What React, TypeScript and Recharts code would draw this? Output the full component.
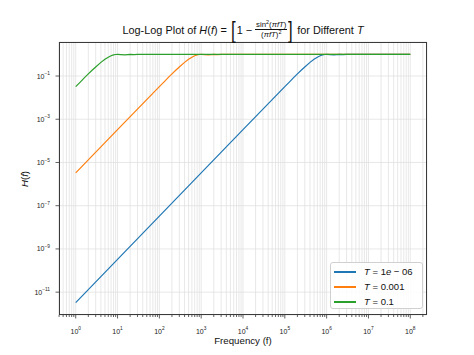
import React from "react";
import { CartesianGrid, Line, LineChart, XAxis, YAxis } from "recharts";

// frequency (Hz) and H(f) for each T
const freqT6 = [1, 10, 100, 1e3, 1e4, 1e5, 1.3e5, 1.6e5, 2e5, 2.5e5, 3e5, 4e5, 5e5, 6e5, 7e5, 8e5, 9e5, 1e6, 1.2e6, 1.5e6, 2e6, 2.5e6, 3e6, 1e7, 1e8];
const hT6 = [3.3e-12, 3.3e-10, 3.3e-8, 3.3e-6, 3.3e-4, 0.0325, 0.054, 0.082, 0.125, 0.189, 0.263, 0.427, 0.595, 0.745, 0.865, 0.945, 0.988, 1, 0.976, 0.955, 1, 0.984, 1, 1, 1];

const freqT3 = [1, 10, 100, 130, 160, 200, 250, 300, 400, 500, 600, 700, 800, 900, 1e3, 1.2e3, 1.5e3, 2e3, 2.5e3, 3e3, 1e4, 1e5, 1e6, 1e7, 1e8];
const hT3 = [3.3e-6, 3.3e-4, 0.0325, 0.054, 0.082, 0.125, 0.189, 0.263, 0.427, 0.595, 0.745, 0.865, 0.945, 0.988, 1, 0.976, 0.955, 1, 0.984, 1, 1, 1, 1, 1, 1];

const freqT1 = [1, 1.3, 1.6, 2, 2.5, 3, 4, 5, 6, 7, 8, 9, 10, 12, 15, 20, 25, 30, 100, 1e3, 1e4, 1e5, 1e6, 1e7, 1e8];
const hT1 = [0.0325, 0.054, 0.082, 0.125, 0.189, 0.263, 0.427, 0.595, 0.745, 0.865, 0.945, 0.988, 1, 0.976, 0.955, 1, 0.984, 1, 1, 1, 1, 1, 1, 1, 1];

const xMajorTicks = [1, 10, 100, 1e3, 1e4, 1e5, 1e6, 1e7, 1e8];
const yMajorTicks = [1e-11, 1e-9, 1e-7, 1e-5, 1e-3, 1e-1];

const series = [
  { key: "t6", color: "#1f77b4", data: freqT6.map((f, i) => ({ f, h: hT6[i] })) },
  { key: "t3", color: "#ff7f0e", data: freqT3.map((f, i) => ({ f, h: hT3[i] })) },
  { key: "t1", color: "#2ca02c", data: freqT1.map((f, i) => ({ f, h: hT1[i] })) },
];

const X_DOMAIN = [10 ** -0.4, 10 ** 8.4];
const Y_DOMAIN = [10 ** -12.057, 10 ** 0.574];

// minor ticks 2..9 x 10^n inside the x domain
const xMinorTicks: number[] = [];
for (let n = -1; n <= 8; n++) {
  for (let k = 2; k <= 9; k++) {
    const v = k * 10 ** n;
    if (v >= X_DOMAIN[0] && v <= X_DOMAIN[1]) xMinorTicks.push(v);
  }
}
const xTicks = [...xMajorTicks, ...xMinorTicks].sort((a, b) => a - b);

const FONT = "'Liberation Sans', Arial, sans-serif";
const AXIS = "#3a3a3a";

const isMajor = (v: number) => Math.abs(Math.log10(v) - Math.round(Math.log10(v))) < 1e-9;
const expLabel = (v: number) => {
  const e = Math.round(Math.log10(v));
  return e < 0 ? `−${-e}` : `${e}`;
};

const XTick = (props: any) => {
  const { x, y, payload } = props;
  const major = isMajor(payload.value);
  return (
    <g>
      <line x1={x} x2={x} y1={y} y2={y + (major ? 3.5 : 2)} stroke={AXIS} strokeWidth={0.8} />
      {major && (
        <text x={x} y={y + 18.5} textAnchor="middle" fontSize={7} fill="#222" fontFamily={FONT}>
          10
          <tspan dy={-3.4} fontSize={4.8}>{expLabel(payload.value)}</tspan>
        </text>
      )}
    </g>
  );
};

const YTick = (props: any) => {
  const { x, y, payload } = props;
  return (
    <g>
      <line x1={x - 3.5} x2={x} y1={y} y2={y} stroke={AXIS} strokeWidth={0.8} />
      <text x={x - 9} y={y + 2.5} textAnchor="end" fontSize={7} fill="#222" fontFamily={FONT}>
        10
        <tspan dy={-3.4} fontSize={4.8}>{expLabel(payload.value)}</tspan>
      </text>
    </g>
  );
};

const legendLabels = [
  <>
    <i>T</i> = 1<i>e</i> − 06
  </>,
  <>
    <i>T</i> = 0.001
  </>,
  <>
    <i>T</i> = 0.1
  </>,
];

export default function App() {
  return (
    <div style={{ position: "absolute", left: 0, top: 0, width: 474, height: 355, background: "#fff", fontFamily: FONT }}>
      <LineChart width={474} height={355} margin={{ top: 42, right: 47, left: 19, bottom: 10 }}>
        <CartesianGrid stroke="#dedede" strokeWidth={0.7} />
        <XAxis
          dataKey="f"
          type="number"
          scale="log"
          domain={X_DOMAIN}
          allowDataOverflow
          ticks={xTicks}
          interval={0}
          height={30}
          axisLine={false}
          tickLine={false}
          tickSize={0}
          tickMargin={0}
          tick={<XTick />}
        />
        <YAxis
          type="number"
          scale="log"
          domain={Y_DOMAIN}
          allowDataOverflow
          ticks={yMajorTicks}
          interval={0}
          width={40}
          axisLine={false}
          tickLine={false}
          tickSize={0}
          tickMargin={0}
          tick={<YTick />}
        />
        {series.map((s) => (
          <Line
            key={s.key}
            data={s.data}
            dataKey="h"
            type="linear"
            stroke={s.color}
            strokeWidth={1.2}
            dot={false}
            isAnimationActive={false}
          />
        ))}
      </LineChart>

      {/* frame */}
      <div
        style={{
          position: "absolute",
          left: 59,
          top: 42,
          width: 368,
          height: 273,
          boxSizing: "border-box",
          border: `1px solid ${AXIS}`,
          pointerEvents: "none",
        }}
      />

      {/* legend */}
      <div
        style={{
          position: "absolute",
          left: 330,
          top: 262,
          width: 93,
          height: 47,
          boxSizing: "border-box",
          border: "1px solid #d0d0d0",
          borderRadius: 3,
          background: "rgba(255,255,255,0.85)",
          padding: "1px 0 0 3px",
          fontSize: 9.5,
          color: "#111",
        }}
      >
        {series.map((s, i) => (
          <div key={s.key} style={{ display: "flex", alignItems: "center", height: 15 }}>
            <div style={{ width: 22, height: 2, background: s.color, marginRight: 8, flexShrink: 0 }} />
            <span style={{ whiteSpace: "nowrap" }}>{legendLabels[i]}</span>
          </div>
        ))}
      </div>

      {/* title */}
      <div
        style={{
          position: "absolute",
          left: 59,
          width: 368,
          top: 17,
          height: 25,
          display: "flex",
          alignItems: "center",
          justifyContent: "center",
          fontSize: 10.9,
          color: "#111",
          whiteSpace: "nowrap",
        }}
      >
        <span>Log-Log Plot of&nbsp;</span>
        <i>H</i>(<i>f</i>)<span>&nbsp;=&nbsp;</span>
        <span style={{ fontSize: 24, fontWeight: 200, lineHeight: 1, transform: "scaleX(0.7)" }}>[</span>
        <span>1 −&nbsp;</span>
        <span style={{ display: "inline-flex", flexDirection: "column", alignItems: "center", fontSize: 7.8, lineHeight: 1.05 }}>
          <span style={{ borderBottom: "0.7px solid #111", padding: "0 1px" }}>
            sin<sup style={{ fontSize: 5.4, verticalAlign: 3 }}>2</sup>(<i>πfT</i>)
          </span>
          <span>
            (<i>πfT</i>)<sup style={{ fontSize: 5.4, verticalAlign: 3 }}>2</sup>
          </span>
        </span>
        <span style={{ fontSize: 24, fontWeight: 200, lineHeight: 1, transform: "scaleX(0.7)" }}>]</span>
        <span>&nbsp;for Different&nbsp;</span>
        <i>T</i>
      </div>

      {/* axis labels */}
      <div style={{ position: "absolute", left: 59, width: 368, top: 335, textAlign: "center", fontSize: 9.7, color: "#111" }}>
        Frequency (f)
      </div>
      <div
        style={{
          position: "absolute",
          left: 24,
          top: 178.5,
          transform: "translate(-50%, -50%) rotate(-90deg)",
          fontSize: 9.7,
          color: "#111",
          whiteSpace: "nowrap",
        }}
      >
        <i>H</i>(<i>f</i>)
      </div>
    </div>
  );
}
